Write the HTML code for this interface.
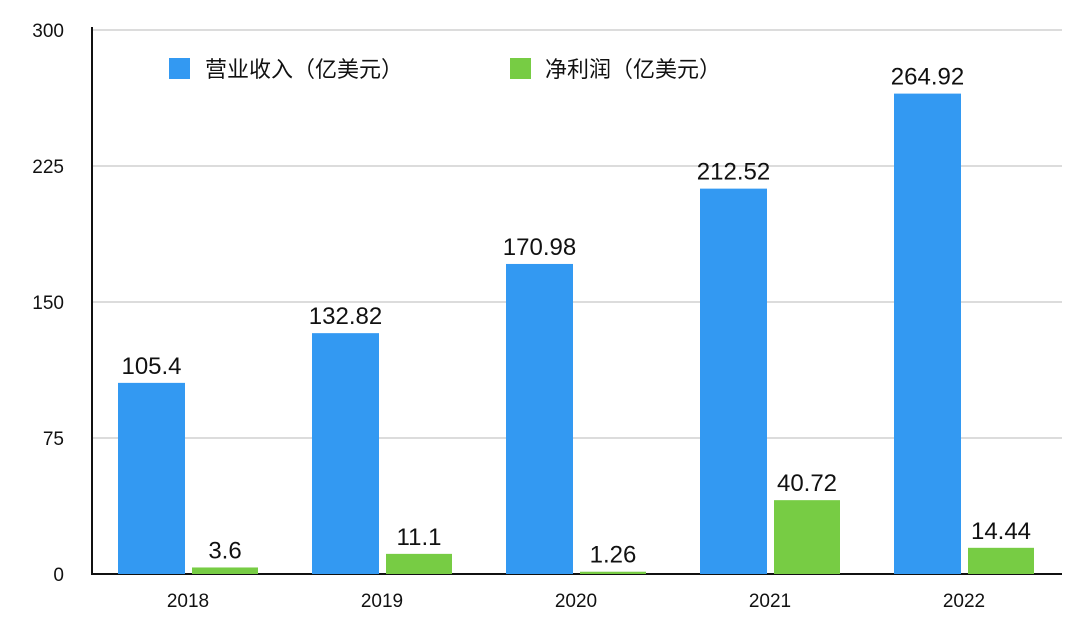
<!DOCTYPE html>
<html><head><meta charset="utf-8"><style>
body{margin:0;background:#fff;}
svg text{font-family:"Liberation Sans","Noto Sans CJK SC",sans-serif;fill:#111;}
</style></head><body>
<svg id="chart" width="1080" height="627" viewBox="0 0 1080 627" xmlns="http://www.w3.org/2000/svg">
<g id="grid"></g><g id="bars"></g><g id="labels"></g>
<g>
<rect x="169" y="58" width="21" height="21" fill="#3399f2"/>
<text x="205" y="77" font-size="22">营业收入（亿美元）</text>
<rect x="510" y="58" width="21" height="21" fill="#77cc44"/>
<text x="545" y="77" font-size="22">净利润（亿美元）</text>
</g>
</svg>
<script>
const categories=["2018","2019","2020","2021","2022"];
const revenue=[105.4,132.82,170.98,212.52,264.92];
const profit=[3.6,11.1,1.26,40.72,14.44];
const revenueLabels=["105.4","132.82","170.98","212.52","264.92"];
const profitLabels=["3.6","11.1","1.26","40.72","14.44"];
const yTicks=[0,75,150,225,300];
const X0=92,X1=1062,Y0=574,Y1=30,YMAX=300;
const cw=(X1-X0)/categories.length;
const y=v=>Y0-(v/YMAX)*(Y0-Y1);
const ns="http://www.w3.org/2000/svg";
function mk(t,a,p){const e=document.createElementNS(ns,t);for(const k in a)e.setAttribute(k,a[k]);p.appendChild(e);return e;}
const grid=document.getElementById('grid'),bars=document.getElementById('bars'),labels=document.getElementById('labels');
yTicks.forEach(t=>{
 if(t>0){const l=mk('line',{x1:X0,x2:X1,y1:y(t),y2:y(t),stroke:'#d0d0d0','stroke-width':1.5},grid);
 
 }
 const tx=mk('text',{x:64,y:y(t)+7,'font-size':19,'text-anchor':'end'},grid);tx.textContent=t;
 
 
});
const ax=mk('path',{d:`M${X0} ${Y1-3}V${Y0}H${X1}`,stroke:'#111','stroke-width':2,fill:'none'},grid);


categories.forEach((c,i)=>{
 const cx=X0+i*cw;
 const b=mk('rect',{x:cx+26,y:y(revenue[i]),width:67,height:Y0-y(revenue[i]),fill:'#3399f2'},bars);
 
 
 const g=mk('rect',{x:cx+100,y:y(profit[i]),width:66,height:Y0-y(profit[i]),fill:'#77cc44'},bars);
 
 
 const t1=mk('text',{x:cx+59.5,y:y(revenue[i])-9,'font-size':24,'text-anchor':'middle'},labels);t1.textContent=revenueLabels[i];
 
 
 const t2=mk('text',{x:cx+133,y:y(profit[i])-9,'font-size':24,'text-anchor':'middle'},labels);t2.textContent=profitLabels[i];
 
 
 const xl=mk('text',{x:cx+96,y:607,'font-size':19,'text-anchor':'middle'},labels);xl.textContent=c;
 
 
});
</script>
</body></html>
